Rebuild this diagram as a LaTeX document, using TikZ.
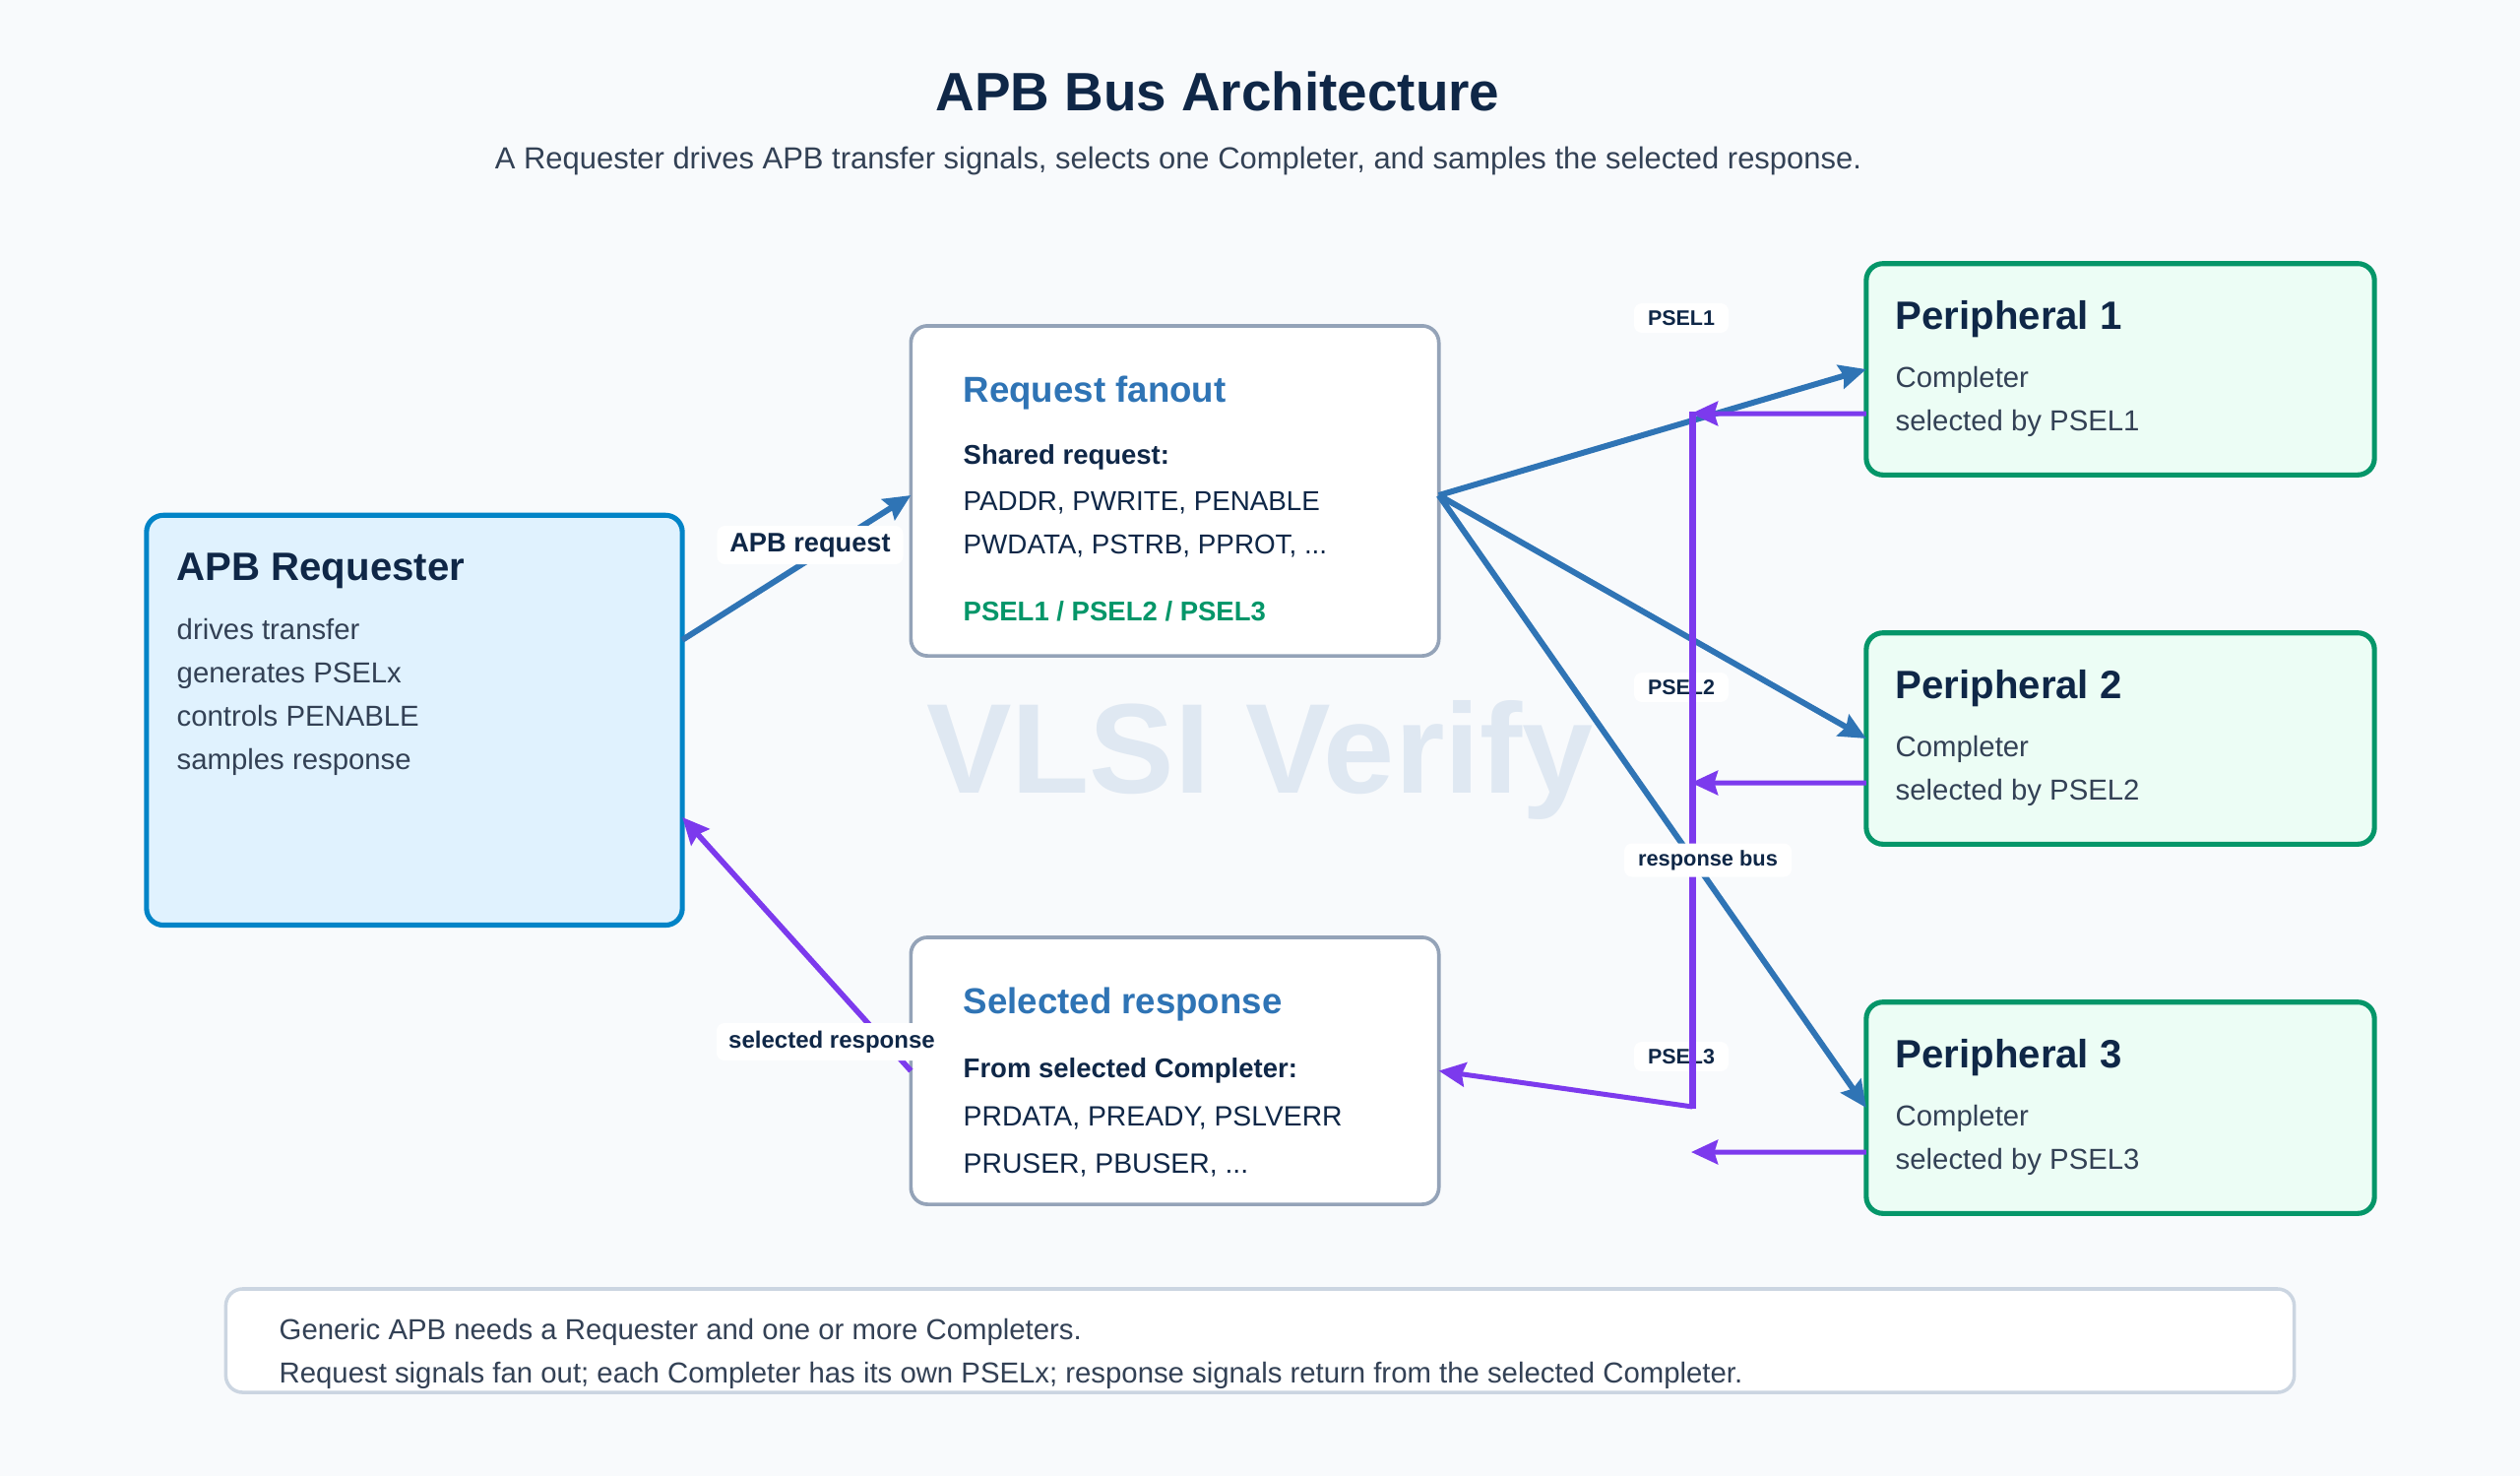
\documentclass[tikz,border=0pt]{standalone}
\usepackage{fontspec}
\setmainfont{Liberation Sans}
\usepackage{xcolor}
\usetikzlibrary{arrows.meta}
\definecolor{pagebg}{HTML}{F8FAFC}
\definecolor{navy}{HTML}{0F2747}
\definecolor{slate}{HTML}{334155}
\definecolor{boxline}{HTML}{94A3B8}
\definecolor{footline}{HTML}{CBD5E1}
\definecolor{reqfill}{HTML}{E0F2FE}
\definecolor{reqline}{HTML}{0284C7}
\definecolor{perfill}{HTML}{ECFDF5}
\definecolor{perline}{HTML}{059669}
\definecolor{blueline}{HTML}{2F74B5}
\definecolor{violetline}{HTML}{7C3AED}
\definecolor{mark}{HTML}{DFE8F2}
\tikzset{%
	panel/.style={
		rectangle,
		rounded corners=0.17cm,
		outer sep=0pt,
		inner sep=0pt
	},
	requester box/.style={panel, draw=reqline, fill=reqfill, line width=1.45pt, minimum width=5.44cm, minimum height=4.16cm},
	peripheral box/.style={panel, draw=perline, fill=perfill, line width=1.45pt, minimum width=5.16cm, minimum height=2.145cm},
	middle box/.style={panel, draw=boxline, fill=white, line width=1.05pt, minimum width=5.36cm},
	foot box/.style={panel, draw=footline, fill=white, line width=1pt, minimum width=21cm, minimum height=1.05cm},
	txt/.style={anchor=base west, inner sep=0pt},
	head big/.style={txt, text=navy, font=\fontsize{11.42}{13}\selectfont\bfseries},
	head mid/.style={txt, text=blueline, font=\fontsize{10.42}{12}\selectfont\bfseries},
	body/.style={txt, text=slate, font=\fontsize{8.34}{10}\selectfont},
	signal/.style={txt, text=navy, font=\fontsize{7.9}{9}\selectfont},
	signal bold/.style={txt, text=navy, font=\fontsize{7.82}{9}\selectfont\bfseries},
	tag/.style={rectangle, rounded corners=0.08cm, fill=white, inner sep=0pt, text=navy},
	blue arrow/.style={draw=blueline, line width=1.7pt, ->},
	violet arrow/.style={draw=violetline, line width=1.42pt, ->},
}

\begin{document}
\begin{tikzpicture}[x=0.01cm, y=-0.01cm, >={Stealth[length=7.7pt, width=7pt, inset=1pt]}]
	
	\useasboundingbox (0,0) rectangle (2560,1499);
	\fill [pagebg] (0,0) rectangle (2560,1499);
	
	\node [anchor=base, inner sep=0pt, text=navy, font=\fontsize{15.6}{18}\selectfont\bfseries] (title) at (1237,112) {APB Bus Architecture};
	\node [anchor=base, inner sep=0pt, text=slate, font=\fontsize{8.8}{10}\selectfont] (subtitle) at (1197,171) {A Requester drives APB transfer signals, selects one Completer, and samples the selected response.};
	
	\node [anchor=base, inner sep=0pt, text=mark, font=\fontsize{36.9}{44}\selectfont\bfseries] (watermark) at (1280,805) {VLSI Verify};
	
	% main boxes
	\node [requester box] (requester) at (421,731.4) {};
	\node [middle box, minimum height=3.35cm] (fanout) at (1193.5,498.5) {};
	\node [middle box, minimum height=2.71cm] (selected) at (1193.5,1087.5) {};
	\node [foot box] (foot) at (1280,1361.5) {};
	
	\foreach \n [count=\i from 0] in {1,2,3}
	\node [peripheral box] (per-\n) at (2154,375+\i*375) {};
	
	% requester text
	\node [head big] (req-head) at (179,589.5) {APB Requester};
	\foreach \l [count=\i from 0] in {drives transfer, generates PSELx, controls PENABLE, samples response}
	\node [body] (req-line-\i) at (179,649+\i*44) {\l};
	
	% fanout text
	\node [head mid] (fan-head) at (978,408) {Request fanout};
	\node [signal bold] (fan-shared) at (978,471) {Shared request:};
	\node [signal] (fan-line-1) at (978,518) {PADDR, PWRITE, PENABLE};
	\node [signal] (fan-line-2) at (978,562.5) {PWDATA, PSTRB, PPROT, ...};
	\node [signal bold, text=perline] (fan-sel) at (978,630) {PSEL1 / PSEL2 / PSEL3};
	
	% response text
	\node [head mid] (sel-head) at (978,1029) {Selected response};
	\node [signal bold] (sel-from) at (978,1094) {From selected Completer:};
	\node [signal, font=\fontsize{8.05}{9}\selectfont] (sel-line-1) at (978,1143) {PRDATA, PREADY, PSLVERR};
	\node [signal, font=\fontsize{8.05}{9}\selectfont] (sel-line-2) at (978,1191) {PRUSER, PBUSER, ...};
	
	% peripheral text
	\foreach \n [count=\i from 0] in {1,2,3} {
		\node [head big] (per-head-\n) at (1925,334+\i*375) {Peripheral \n};
		\node [body] (per-role-\n) at (1925,393.5+\i*375) {Completer};
		\node [body] (per-sel-\n) at (1925,437.5+\i*375) {selected by PSEL\n};
	}
	
	% footer text
	\node [body] (foot-1) at (283,1360) {Generic APB needs a Requester and one or more Completers.};
	\node [body] (foot-2) at (283,1404) {Request signals fan out; each Completer has its own PSELx; response signals return from the selected Completer.};
	
	% PSEL tags sit under the bus
	\foreach \n [count=\i from 0] in {1,2,3}
	\node [tag, minimum width=0.96cm, minimum height=0.3cm, font=\fontsize{6.1}{7}\selectfont\bfseries] (tag-\n) at (1708,323+\i*375) {PSEL\n};
	
	\coordinate (bus-top) at (1719.5,418);
	\coordinate (bus-end) at (1719.5,1126);
	\coordinate (bus-turn) at (1719.5,1124);
	
	% request side
	\draw [blue arrow] ([yshift=0.815cm]requester.east) -- ([yshift=-0.045cm]fanout.west);
	\foreach \n in {1,2,3}
	\draw [blue arrow] ([yshift=-0.045cm]fanout.east) -- (per-\n.west);
	
	% response side
	\draw [violetline, line width=2pt] (bus-top) -- (bus-end);
	\draw [violet arrow] (bus-turn) -- (selected.east);
	\foreach \n [count=\i from 0] in {1,2,3} {
		\coordinate (bus-\n) at (1718,420+\i*375);
		\draw [violet arrow] ([yshift=-0.45cm]per-\n.west) -- (bus-\n);
	}
	\draw [violet arrow, line width=1.6pt] (selected.west) -- ([yshift=-0.985cm]requester.east);
	
	% tags over the lines
	\node [tag, minimum width=1.89cm, minimum height=0.39cm, font=\fontsize{7.74}{9}\selectfont\bfseries] (tag-req) at (823,553.5) {APB request};
	\node [tag, minimum width=2.34cm, minimum height=0.38cm, font=\fontsize{6.83}{8}\selectfont\bfseries] (tag-resp) at (845,1058) {selected response};
	\node [tag, minimum width=1.7cm, minimum height=0.34cm, font=\fontsize{6.2}{7}\selectfont\bfseries] (tag-bus) at (1735,873.5) {response bus};
	
\end{tikzpicture}
\end{document}
